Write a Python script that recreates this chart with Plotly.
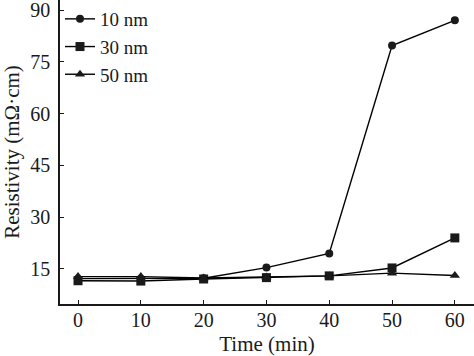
import plotly.graph_objects as go

time_min = [0, 10, 20, 30, 40, 50, 60]
res_10nm = [12.2, 12.2, 12.3, 15.4, 19.5, 79.7, 87.0]
res_30nm = [11.6, 11.5, 12.1, 12.5, 13.0, 15.3, 24.0]
res_50nm = [12.8, 12.8, 12.4, 12.7, 13.0, 13.8, 13.1]
series_names = ["10 nm", "30 nm", "50 nm"]
x_ticks = [0, 10, 20, 30, 40, 50, 60]
y_ticks = [15, 30, 45, 60, 75, 90]

font = "Liberation Serif"
fig = go.Figure()
specs = [(res_10nm, "circle", 8), (res_30nm, "square", 9), (res_50nm, "triangle-up", 9)]
for name, (vals, sym, sz) in zip(series_names, specs):
    fig.add_trace(go.Scatter(
        x=time_min, y=vals, name=name, mode="lines+markers",
        line=dict(color="black", width=1.4),
        marker=dict(symbol=sym, size=sz, color="#1a1a1a"),
    ))

fig.update_layout(
    width=474, height=356,
    margin=dict(l=60, r=0, t=0, b=52, autoexpand=False),
    plot_bgcolor="white", paper_bgcolor="white",
    font=dict(family=font, size=20, color="#1a1a1a"),
    showlegend=True,
    legend=dict(x=0.0, y=1.0, xanchor="left", yanchor="top",
                bgcolor="rgba(0,0,0,0)", itemwidth=30, tracegroupgap=0,
                font=dict(family=font, size=19)),
    xaxis=dict(range=[-2.87, 63.05], tickvals=x_ticks, ticks="inside", ticklen=4,
               showline=True, linecolor="#1a1a1a", linewidth=1.5, showgrid=False,
               zeroline=False, tickcolor="#1a1a1a", automargin=False,
               ticklabelstandoff=-3,
               title=dict(text="Time (min)", standoff=8, font=dict(size=21))),
    yaxis=dict(range=[4.86, 92.9], tickvals=y_ticks, ticks="inside", ticklen=4,
               showline=True, linecolor="#1a1a1a", linewidth=1.5, showgrid=False,
               zeroline=False, tickcolor="#1a1a1a", automargin=False,
               ticklabelstandoff=4, ticklabeloverflow="allow",
               title=dict(text="Resistivity (mΩ·cm)", standoff=12, font=dict(size=21))),
)
fig.write_html("out.html", config={"displayModeBar": False},
               post_script="document.body.style.margin='0';document.body.style.overflow='hidden';")
